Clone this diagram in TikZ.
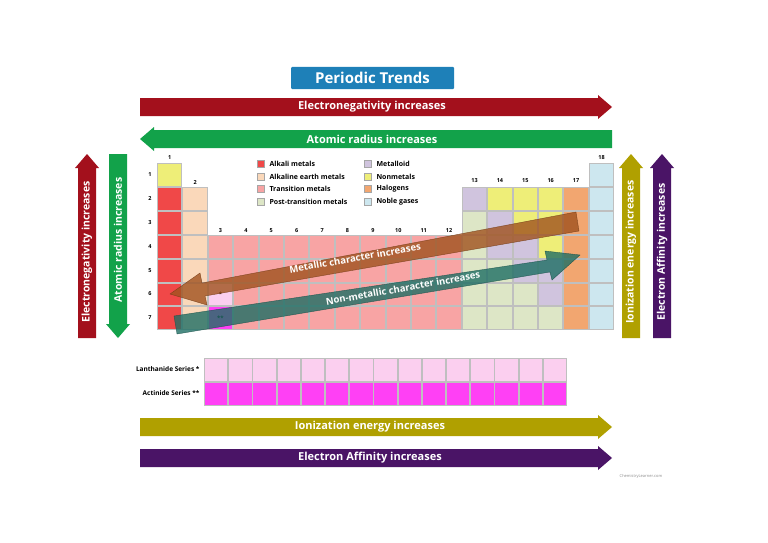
\documentclass[tikz,border=0pt]{standalone}
\usepackage{fontspec}
\setmainfont{Open Sans}
\definecolor{alk}{HTML}{F04848}
\definecolor{ale}{HTML}{FAD8BA}
\definecolor{tra}{HTML}{F8A4A4}
\definecolor{pos}{HTML}{DDE6C6}
\definecolor{met}{HTML}{D0C4DE}
\definecolor{non}{HTML}{EEEE78}
\definecolor{hal}{HTML}{F2A670}
\definecolor{nob}{HTML}{CDE7EF}
\definecolor{lan}{HTML}{FBCFEF}
\definecolor{act}{HTML}{FF40F5}
\definecolor{aR}{HTML}{A3101C}
\definecolor{aG}{HTML}{12A24A}
\definecolor{aO}{HTML}{B0A000}
\definecolor{aP}{HTML}{4A1466}
\definecolor{tB}{HTML}{1E80B8}
\definecolor{brn}{HTML}{A0521E}
\definecolor{tea}{HTML}{1E6E64}
\newcommand\HArr[3]{% y, colour, 1=right / -1=left
 \fill[#2] ({376-236*#3},{#1-9}) -- ({376+222*#3},{#1-9}) -- ({376+222*#3},{#1-12}) -- ({376+236*#3},#1) -- ({376+222*#3},{#1+12}) -- ({376+222*#3},{#1+9}) -- ({376-236*#3},{#1+9}) -- cycle;}
\newcommand\VArr[3]{% x, colour, 1=up / -1=down
 \fill[#2] ({#1-9},{246+92*#3}) -- ({#1-9},{246-78*#3}) -- ({#1-12},{246-78*#3}) -- (#1,{246-92*#3}) -- ({#1+12},{246-78*#3}) -- ({#1+9},{246-78*#3}) -- ({#1+9},{246+92*#3}) -- cycle;}
\tikzset{
 cell/.style={draw=black!25,line width=0.8pt,minimum width=24.4pt,minimum height=22.9pt,inner sep=0pt,anchor=north west},
 lab/.style={font=\fontsize{5.5}{6}\selectfont\bfseries},
 leg/.style={font=\fontsize{7}{8}\selectfont\bfseries,anchor=west},
 sw/.style={draw=black!35,minimum width=7pt,minimum height=7pt,inner sep=0pt},
 atext/.style={text=white,font=\fontsize{11}{12}\selectfont\bfseries},
 vtext/.style={text=white,font=\fontsize{10.5}{12}\selectfont\bfseries,rotate=90},
 dtext/.style={text=white,font=\fontsize{9.5}{10}\selectfont\bfseries,rotate=10,inner sep=0pt},
}
\begin{document}
\begin{tikzpicture}[x=1pt,y=-1pt]
\useasboundingbox[fill=white] (0,0) rectangle (768,543);
% title
\node[fill=tB,text=white,font=\fontsize{15}{16}\selectfont\bfseries,minimum width=163pt,minimum height=22pt,inner sep=0pt,rounded corners=1pt] (title) at (372.5,78) {Periodic Trends};
% horizontal arrows
\HArr{107}{aR}{1}
\HArr{139}{aG}{-1}
\HArr{427}{aO}{1}
\HArr{458}{aP}{1}
\node[atext] (en) at (372,107) {Electronegativity increases};
\node[atext] (ar) at (372,139) {Atomic radius increases};
\node[atext] (ie) at (370,427) {Ionization energy increases};
\node[atext] (ea) at (370,458) {Electron Affinity increases};
% vertical arrows
\VArr{87}{aR}{1}
\VArr{118}{aG}{-1}
\VArr{631}{aO}{1}
\VArr{662}{aP}{1}
\node[vtext] (ven) at (87,252) {Electronegativity increases};
\node[vtext] (var) at (118,240) {Atomic radius increases};
\node[vtext] (vie) at (631,252) {Ionization energy increases};
\node[vtext] (vea) at (662,252) {Electron Affinity increases};
% cells
\def\cx#1{157+25.4*(#1-1)}
\def\ry#1{163+23.9*(#1-1)}
\foreach \c/\r/\k in {1/1/non,18/1/nob,
 1/2/alk,1/3/alk,1/4/alk,1/5/alk,1/6/alk,1/7/alk,
 2/2/ale,2/3/ale,2/4/ale,2/5/ale,2/6/ale,2/7/ale,
 13/2/met,14/2/non,15/2/non,16/2/non,17/2/hal,
 13/3/pos,14/3/met,15/3/non,16/3/non,17/3/hal,
 13/4/pos,14/4/met,15/4/met,16/4/non,17/4/hal,
 13/5/pos,14/5/pos,15/5/met,16/5/met,17/5/hal,
 13/6/pos,14/6/pos,15/6/pos,16/6/met,17/6/hal,
 13/7/pos,14/7/pos,15/7/pos,16/7/pos,17/7/hal,
 18/2/nob,18/3/nob,18/4/nob,18/5/nob,18/6/nob,18/7/nob}
 {\node[cell,fill=\k] (c\c-\r) at ({\cx{\c}},{\ry{\r}}) {};}
\foreach \c in {3,...,12}
 \foreach \r in {4,5,6,7}
 {\node[cell,fill=tra] (c\c-\r) at ({\cx{\c}},{\ry{\r}}) {};}
\node[cell,fill=lan,font=\fontsize{6}{6}\selectfont\bfseries] (c3-6) at ({\cx{3}},{\ry{6}}) {*};
\node[cell,fill=act,font=\fontsize{6}{6}\selectfont\bfseries] (c3-7) at ({\cx{3}},{\ry{7}}) {**};
% row labels
\foreach \r in {1,...,7} {\node[lab] (r\r) at (150,{\ry{\r}+11.5}) {\r};}
% group labels
\node[lab] (g1) at ({\cx{1}+12.7},158) {1};
\node[lab] (g2) at ({\cx{2}+12.7},183) {2};
\foreach \c in {3,...,12} {\node[lab] (g\c) at ({\cx{\c}+12.7},231) {\c};}
\foreach \c in {13,...,17} {\node[lab] (g\c) at ({\cx{\c}+12.7},181) {\c};}
\node[lab] (g18) at ({\cx{18}+12.7},158) {18};
% legend
\foreach \y/\k/\t in {164/alk/Alkali metals,176.5/ale/Alkaline earth metals,189/tra/Transition metals,201.5/pos/Post-transition metals}
 {\node[sw,fill=\k] (s\k) at (261,\y) {}; \node[leg] (t\k) at (266,\y) {\t};}
\foreach \y/\k/\t in {164/met/Metalloid,176.5/non/Nonmetals,189/hal/Halogens,201.5/nob/Noble gases}
 {\node[sw,fill=\k] (s\k) at (368,\y) {}; \node[leg] (t\k) at (373,\y) {\t};}
% diagonal arrows
\fill[brn,opacity=0.8,draw=brn!70!black] (576,212) -- (579,231) -- (205,296) -- (207,305) -- (170,294) -- (200,273) -- (202,283) -- cycle;
\node[dtext] (mc) at (355,258) {Metallic character increases};
\fill[tea,opacity=0.8,draw=tea!70!black] (174,316) -- (177,334) -- (550,272) -- (552,280) -- (580,255) -- (545,251) -- (547,260) -- cycle;
\node[dtext] (nmc) at (403,288) {Non-metallic character increases};
% series
\foreach \i in {1,...,15} {
 \node[cell,minimum width=23.4pt,fill=lan] (l\i) at ({204+24.2*(\i-1)},358) {};
 \node[cell,minimum width=23.4pt,fill=act] (a\i) at ({204+24.2*(\i-1)},382) {};}
\node[font=\fontsize{6.5}{7}\selectfont\bfseries,anchor=east] (ls) at (203,369.5) {Lanthanide Series *};
\node[font=\fontsize{6.5}{7}\selectfont\bfseries,anchor=east] (as) at (203,393.5) {Actinide Series **};
\node[font=\fontsize{4}{5}\selectfont,text=black!45] (cl) at (641,476) {ChemistryLearner.com};
\end{tikzpicture}
\end{document}
